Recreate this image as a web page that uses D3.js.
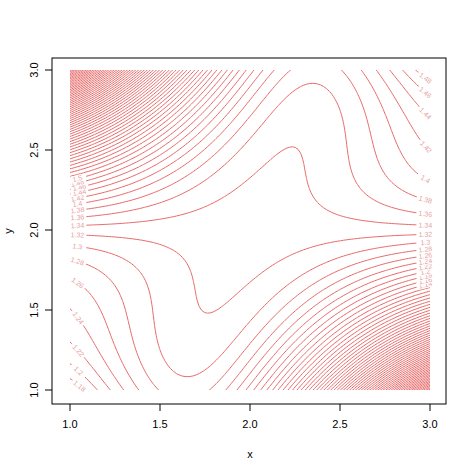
<!DOCTYPE html><html><head><script src="https://cdn.jsdelivr.net/npm/d3@7"></script>
<style>body{margin:0;background:#fff}text{font-family:"Liberation Sans",Arial,sans-serif}</style></head><body>
<svg id="c" width="474" height="474"></svg>
<script>
const xTicks=[1.0,1.5,2.0,2.5,3.0];
const yTicks=[1.0,1.5,2.0,2.5,3.0];
const coef={b:0.02,d:0.48,e:-0.466,g:0.1,p:-0.049,s:-0.143,w:0.228};
const base=1.33;
const levels=d3.range(-60,280,2).map(v=>+(v/100).toFixed(2));
const N=141, lo=0.9, hi=3.1;
const svg=d3.select("#c");
const x=d3.scaleLinear().domain([1,3]).range([70,430]);
const y=d3.scaleLinear().domain([1,3]).range([390,70]);
function f(px,py){const u=px-2,v=py-2,k=coef;
 return base+v*(k.b+k.d*u*u+k.e*u*v+k.g*v*v+k.p*u*u*u*v+k.s*u*u*u*u+k.w*u*u*v*v);}
const step=(hi-lo)/(N-1);
const grid=new Array(N*N);
for(let j=0;j<N;j++)for(let i=0;i<N;i++){grid[j*N+i]=f(lo+i*step,lo+j*step);}
const conts=d3.contours().size([N,N]).thresholds(levels).smooth(true)(grid);
const px=p=>x(lo+(p[0]-0.5)*step), py=p=>y(lo+(p[1]-0.5)*step);
svg.append("clipPath").attr("id","cl").append("rect").attr("x",70).attr("y",70).attr("width",360).attr("height",320);
const g=svg.append("g").attr("clip-path","url(#cl)");
const labels=[];
conts.forEach(c=>{
  const lv=c.value;
  c.coordinates.forEach(poly=>poly.forEach(ring=>{
    const pts=ring.map(p=>[px(p),py(p)]);
    g.append("path").attr("d",d3.line()(pts)).attr("fill","none").attr("stroke","#e86a6a").attr("stroke-width",1);
    if(lv>=1.14&&lv<=1.5&&Math.abs(lv-1.33)>0.005){
      [[74,80],[420,426]].forEach(([a,b])=>{
        for(let k=1;k<pts.length;k++){const q=pts[k];
          if(q[0]>=a&&q[0]<=b&&q[1]>72&&q[1]<388){const q0=pts[k-1];let ang=Math.atan2(q[1]-q0[1],q[0]-q0[0])*180/Math.PI;
            if(ang>90)ang-=180;if(ang<-90)ang+=180;labels.push({x:q[0],y:q[1],a:ang,t:String(+lv.toFixed(2))});break;}}
      });
    }
  }));
});
const lg=svg.append("g");
labels.forEach(l=>{const t=lg.append("g").attr("transform",`translate(${l.x},${l.y}) rotate(${l.a})`);
  t.append("rect").attr("x",-9).attr("y",-3.5).attr("width",18).attr("height",7).attr("fill","#fff");
  t.append("text").attr("text-anchor","middle").attr("dy","0.35em").attr("font-size",7).attr("fill","#e8a0a0").text(l.t);});
svg.append("rect").attr("x",52).attr("y",58).attr("width",394).attr("height",346).attr("fill","none").attr("stroke","#000");
const xa=svg.append("g").attr("transform","translate(0,404)");
xTicks.forEach(t=>{xa.append("line").attr("x1",x(t)).attr("x2",x(t)).attr("y1",0).attr("y2",7).attr("stroke","#000");
 xa.append("text").attr("x",x(t)).attr("y",24).attr("text-anchor","middle").attr("font-size",11).text(t.toFixed(1));});
const ya=svg.append("g").attr("transform","translate(52,0)");
yTicks.forEach(t=>{ya.append("line").attr("y1",y(t)).attr("y2",y(t)).attr("x1",0).attr("x2",-7).attr("stroke","#000");
 ya.append("text").attr("transform",`translate(-14,${y(t)}) rotate(-90)`).attr("text-anchor","middle").attr("font-size",11).text(t.toFixed(1));});
svg.append("text").attr("x",250).attr("y",458).attr("text-anchor","middle").attr("font-size",11).text("x");
svg.append("text").attr("transform","translate(12,231) rotate(-90)").attr("text-anchor","middle").attr("font-size",11).text("y");
</script></body></html>
